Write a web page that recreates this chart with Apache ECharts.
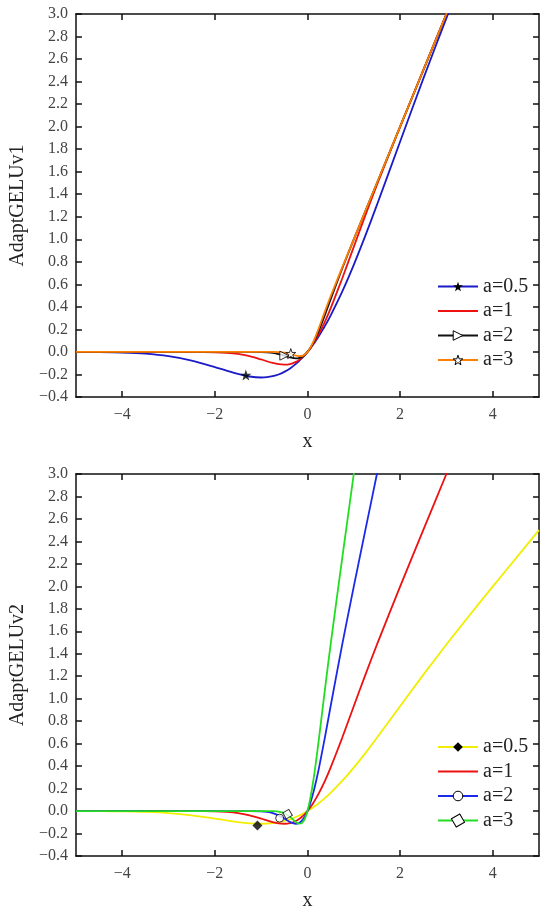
<!DOCTYPE html>
<html>
<head>
<meta charset="utf-8" />
<title>AdaptGELU</title>
<style>
    html, body { margin: 0; padding: 0; background: #fff; }
    #main { width: 550px; height: 915px; }
</style>
</head>
<body>
<div id="main"></div>
<script src="https://cdn.jsdelivr.net/npm/echarts@6/dist/echarts.min.js"></script>
<script type="text/javascript">
    // x positions shared by every curve
    var xs = [-5, -4.5, -4, -3.5, -3, -2.5, -2, -1.75, -1.5, -1.25, -1, -0.875, -0.75, -0.625,
        -0.5, -0.375, -0.25, -0.1875, -0.125, -0.0625, 0, 0.0625, 0.125, 0.1875, 0.25, 0.375,
        0.5, 0.75, 1, 1.25, 1.5, 2, 2.5, 3, 3.5, 4, 4.5, 5];

    // AdaptGELUv1 (top panel)
    var v1A05 = [-0.0004, -0.0017, -0.0054, -0.015, -0.037, -0.076, -0.134, -0.166, -0.195, -0.218,
        -0.227, -0.224, -0.215, -0.2, -0.177, -0.146, -0.106, -0.083, -0.058, -0.03,
        0, 0.032, 0.067, 0.104, 0.144, 0.229, 0.323, 0.535, 0.773, 1.032, 1.305, 1.866, 2.424, 2.963, 3.485];
    var v1A1 = [0, 0, 0, 0, -0.0002, -0.0004, -0.0027, -0.0076, -0.018, -0.038,
        -0.067, -0.083, -0.098, -0.109, -0.113, -0.108, -0.088, -0.073, -0.053, -0.029,
        0, 0.034, 0.072, 0.115, 0.162, 0.267, 0.387, 0.652, 0.933, 1.212, 1.482, 1.997, 2.5, 3.0, 3.5];
    var v1A2 = [0, 0, 0, 0, 0, 0, 0, 0, 0, 0,
        -0.0013, -0.0038, -0.0092, -0.019, -0.033, -0.049, -0.057, -0.054, -0.044, -0.027,
        0, 0.036, 0.081, 0.134, 0.193, 0.326, 0.467, 0.741, 0.999, 1.25, 1.5, 2, 2.5, 3, 3.5];
    var v1A3 = [0, 0, 0, 0, 0, 0, 0, 0, 0, 0, 0, 0,
        -0.0003, -0.0015, -0.0061, -0.017, -0.033, -0.037, -0.036, -0.024,
        0, 0.038, 0.089, 0.15, 0.217, 0.358, 0.494, 0.75, 1, 1.25, 1.5, 2, 2.5, 3, 3.5];

    // AdaptGELUv2 (bottom panel)
    var v2A05 = [-0.0002, -0.0009, -0.0027, -0.0076, -0.018, -0.038, -0.067, -0.083, -0.098, -0.109,
        -0.113, -0.112, -0.108, -0.1, -0.088, -0.073, -0.053, -0.042, -0.029, -0.015,
        0, 0.016, 0.034, 0.052, 0.072, 0.115, 0.162, 0.268, 0.387, 0.516, 0.653, 0.933, 1.212, 1.482,
        1.743, 1.997, 2.249, 2.5];
    var v2A1 = [0, 0, 0, 0, -0.0002, -0.0004, -0.0027, -0.0076, -0.018, -0.038,
        -0.067, -0.083, -0.098, -0.109, -0.113, -0.108, -0.088, -0.073, -0.053, -0.029,
        0, 0.034, 0.072, 0.115, 0.162, 0.267, 0.387, 0.652, 0.933, 1.212, 1.482, 1.997, 2.5, 3.0, 3.5];
    var v2A2 = [0, 0, 0, 0, 0, 0, 0, 0, 0, 0,
        -0.0027, -0.0076, -0.018, -0.038, -0.067, -0.098, -0.113, -0.108, -0.088, -0.053,
        0, 0.072, 0.162, 0.267, 0.387, 0.652, 0.933, 1.482, 1.997, 2.5, 3.0, 4.0];
    var v2A3 = [0, 0, 0, 0, 0, 0, 0, 0, 0, 0, 0, 0,
        -0.001, -0.0046, -0.018, -0.052, -0.098, -0.111, -0.108, -0.073,
        0, 0.115, 0.267, 0.45, 0.652, 1.074, 1.482, 2.25, 3.0, 3.75];

    // single marker drawn on each curve (null = no marker)
    var v1Marks = [[-1.33, -0.205], null, [-0.5, -0.033], [-0.36, -0.015]];
    var v2Marks = [[-1.08, -0.128], null, [-0.6, -0.063], [-0.43, -0.027]];

    var names = ['a=0.5', 'a=1', 'a=2', 'a=3'];
    var xTicks = [-4, -2, 0, 2, 4];

    var STAR = 'path://M5,0L6.18,3.45L9.76,3.45L6.91,5.59L7.94,9.05L5,7L2.06,9.05L3.09,5.59L0.24,3.45L3.82,3.45Z';
    var TRI = 'path://M1,1.5L9,5L1,8.5Z';

    var SERIF = 'Liberation Serif';

    function pairs(ys) {
        return ys.map(function (y, i) { return [xs[i], y]; });
    }

    function makeSeries(panel, vals, marks, cfg) {
        var out = [];
        vals.forEach(function (ys, k) {
            var name = 'v' + (panel + 1) + ' ' + names[k];
            var markStyle;
            if (!marks[k]) {
                // no marker: keep the legend icon a plain line
                markStyle = { color: cfg.colors[k], opacity: 0 };
            } else if (cfg.hollow[k]) {
                markStyle = { color: '#fff', borderColor: '#000', borderWidth: 1 };
            } else {
                markStyle = { color: '#000' };
            }
            out.push({
                name: name,
                type: 'line',
                xAxisIndex: panel * 2,
                yAxisIndex: panel * 2,
                data: pairs(ys),
                smooth: 0.25,
                showSymbol: false,
                symbol: cfg.symbols[k],
                symbolSize: cfg.sizes[k],
                symbolRotate: cfg.rotate[k],
                lineStyle: { color: cfg.colors[k], width: 1.8, opacity: 1 },
                itemStyle: markStyle,
                emphasis: { disabled: true },
                silent: true
            });
            if (marks[k]) {
                out.push({
                    name: name,
                    type: 'scatter',
                    xAxisIndex: panel * 2,
                    yAxisIndex: panel * 2,
                    data: [marks[k]],
                    symbol: cfg.symbols[k],
                    symbolSize: cfg.sizes[k],
                    symbolRotate: cfg.rotate[k],
                    itemStyle: markStyle,
                    z: 5,
                    silent: true
                });
            }
        });
        return out;
    }

    var topSeries = makeSeries(0, [v1A05, v1A1, v1A2, v1A3], v1Marks, {
        colors: ['#1a1ac8', '#ee1111', '#111111', '#ff8000'],
        symbols: [STAR, 'circle', TRI, STAR],
        sizes: [11, 0, 9, 10],
        rotate: [0, 0, 0, 0],
        hollow: [false, false, true, true]
    });
    var bottomSeries = makeSeries(1, [v2A05, v2A1, v2A2, v2A3], v2Marks, {
        colors: ['#f2ee00', '#ee1111', '#1a2ae8', '#22dd22'],
        symbols: ['diamond', 'circle', 'circle', 'rect'],
        sizes: [10, 0, 8, 7],
        rotate: [0, 0, 0, 30],
        hollow: [false, false, true, true]
    });

    var axisLine = { show: true, onZero: false, lineStyle: { color: '#111', width: 1.5 } };
    var axisTick = { show: true, inside: true, length: 6, lineStyle: { color: '#111', width: 1.5 } };
    var labelStyle = { fontFamily: SERIF, fontSize: 16, color: '#444' };
    var nameStyle = { fontFamily: SERIF, fontSize: 20, color: '#222' };

    function xAxes(grid) {
        return [
            {
                type: 'value', gridIndex: grid, position: 'bottom', min: -5, max: 5,
                name: 'x', nameLocation: 'middle', nameGap: 35, nameTextStyle: nameStyle,
                axisLine: axisLine,
                axisTick: Object.assign({ customValues: xTicks }, axisTick),
                axisLabel: Object.assign({ customValues: xTicks, margin: 10,
                    formatter: function (v) { return String(v).replace('-', '\u2212'); } }, labelStyle),
                splitLine: { show: false }
            },
            {
                type: 'value', gridIndex: grid, position: 'top', min: -5, max: 5,
                axisLine: axisLine,
                axisTick: Object.assign({ customValues: xTicks }, axisTick),
                axisLabel: { show: false },
                splitLine: { show: false }
            }
        ];
    }

    function yAxes(grid, title) {
        return [
            {
                type: 'value', gridIndex: grid, position: 'left', min: -0.4, max: 3.0, interval: 0.2,
                name: title, nameLocation: 'middle', nameGap: 42, nameTextStyle: nameStyle,
                axisLine: axisLine,
                axisTick: axisTick,
                axisLabel: Object.assign({ margin: 8,
                    formatter: function (v) { return v.toFixed(1).replace('-', '\u2212'); } }, labelStyle),
                splitLine: { show: false }
            },
            {
                type: 'value', gridIndex: grid, position: 'right', min: -0.4, max: 3.0, interval: 0.2,
                axisLine: axisLine,
                axisTick: axisTick,
                axisLabel: { show: false },
                splitLine: { show: false }
            }
        ];
    }

    function legendFor(panel, top) {
        return {
            orient: 'vertical',
            left: 432,
            top: top,
            itemWidth: 40,
            itemHeight: 12,
            itemGap: 4.5,
            selectedMode: false,
            data: names.map(function (n) { return 'v' + (panel + 1) + ' ' + n; }),
            formatter: function (n) { return n.slice(3); },
            itemStyle: { borderWidth: 1 },
            textStyle: { fontFamily: SERIF, fontSize: 20, color: '#222' }
        };
    }

    var chartDom = document.getElementById('main');
    var myChart = echarts.init(chartDom);
    var option = {
        animation: false,
        backgroundColor: '#fff',
        grid: [
            { left: 69, right: 11, top: 14, height: 383 },
            { left: 69, right: 11, top: 474, height: 382 }
        ],
        xAxis: xAxes(0).concat(xAxes(1)),
        yAxis: yAxes(0, 'AdaptGELUv1').concat(yAxes(1, 'AdaptGELUv2')),
        legend: [legendFor(0, 271.5), legendFor(1, 732)],
        series: topSeries.concat(bottomSeries)
    };

    option && myChart.setOption(option);
</script>
</body>
</html>
